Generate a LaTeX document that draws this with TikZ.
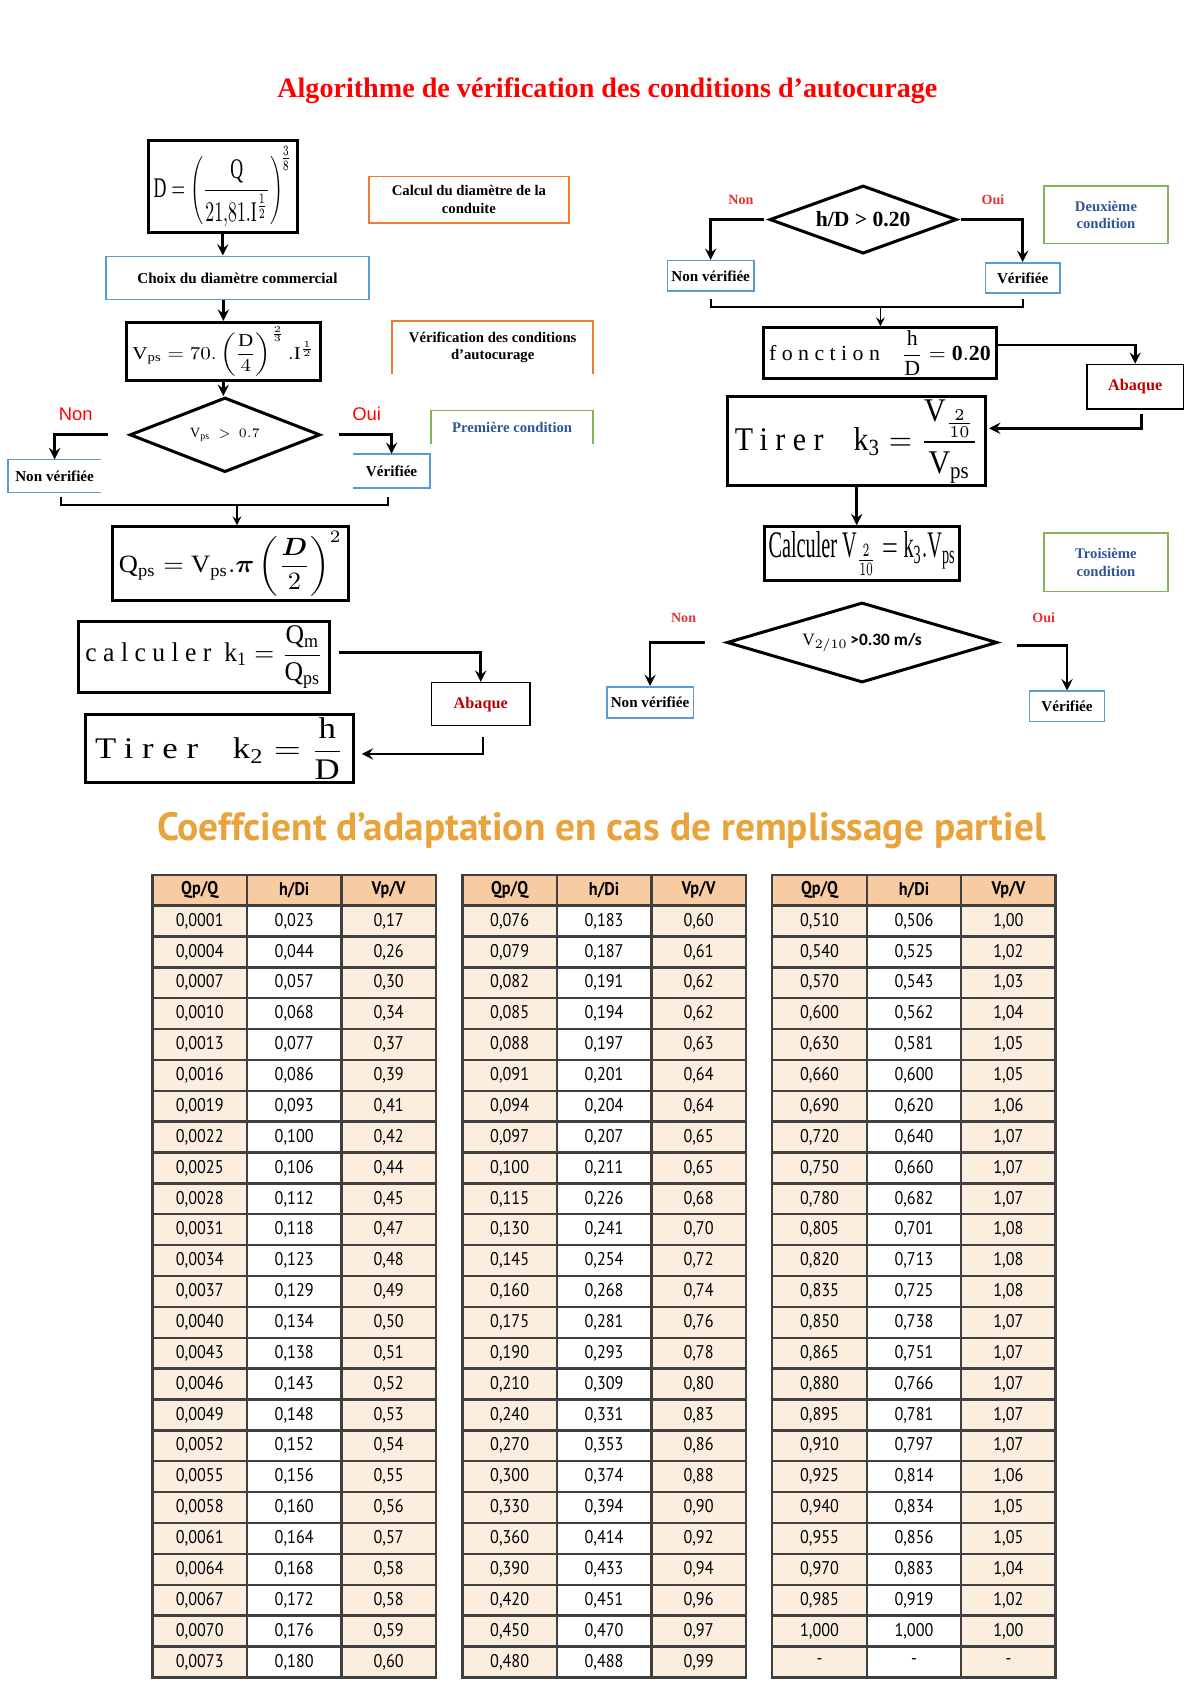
\documentclass[tikz,border=0pt]{standalone}
\usepackage{amsmath}
\usepackage{fontspec}
\setmainfont{Liberation Serif}
\setmathrm{Liberation Serif}
\newfontfamily\arialfont{Liberation Sans}
\newfontfamily\calfont{Carlito}
\newfontfamily\titlefont{PT Sans}
\newfontfamily\tabfont[FakeStretch=0.88]{PT Sans}
\newfontfamily\widefont[LetterSpace=25]{Liberation Serif}
\usetikzlibrary{shapes.geometric}

\definecolor{titlered}{RGB}{255,0,0}
\definecolor{labelred}{RGB}{230,50,55}
\definecolor{boxorange}{RGB}{237,125,49}
\definecolor{boxblue}{RGB}{91,155,213}
\definecolor{boxgreen}{RGB}{130,180,90}
\definecolor{condblue}{RGB}{47,85,151}
\definecolor{abared}{RGB}{192,0,0}
\definecolor{taborange}{RGB}{232,163,60}
\definecolor{headfill}{RGB}{248,203,163}
\definecolor{cellfill}{RGB}{252,238,223}
\definecolor{gridgrey}{RGB}{64,64,64}

\newcommand\fsz[2]{\fontsize{#1}{#2}\selectfont}
\newcommand\fitbox[3]{\resizebox*{#1}{#2}{#3}}

\begin{document}
\begin{tikzpicture}[x=0.5pt, y=-0.5pt, >=stealth,
    fbox/.style={draw, line width=1.4pt, inner sep=0pt},
    notebox/.style={inner sep=0pt, align=center, font=\fsz{6.8}{8}\bfseries},
    bluebox/.style={draw=boxblue, line width=0.7pt, inner sep=0pt, font=\fsz{7}{8}\bfseries},
    openbox/.style={inner sep=0pt, font=\fsz{7}{8}\bfseries},
    greenbox/.style={draw=boxgreen, line width=0.7pt, inner sep=0pt, align=center, text=condblue, font=\fsz{6.8}{8}\bfseries},
    abaque/.style={draw, line width=0.6pt, inner sep=0pt, text=abared, font=\fsz{7.5}{9}\bfseries},
    decision/.style={diamond, draw, line width=1.4pt, inner sep=0pt},
    sanslabel/.style={text=titlered, font=\arialfont\fsz{8.5}{10}},
    seriflabel/.style={text=labelred, font=\fsz{6.5}{8}\bfseries},
    arr/.style={->, line width=1.3pt},
    mergeline/.style={line width=0.8pt},
    tabline/.style={gridgrey, line width=1.1pt, line cap=rect},
    headtxt/.style={font=\tabfont\bfseries\fsz{8.5}{10}},
    celltxt/.style={font=\tabfont\fsz{8.5}{10}}]
\useasboundingbox (0,0) rectangle (1109,1568);

% titre
\node[font=\fsz{13}{15}\bfseries, text=titlered] (titre) at (561.5,84) {Algorithme de vérification des conditions d’autocurage};

% premiere condition
\node[fbox, minimum width=69pt, minimum height=42.5pt] (dform) at (206,172.5)
  {\fitbox{64pt}{37pt}{$\mathrm{D}=\left(\dfrac{\mathrm{Q}}{21{,}81.\mathrm{I}^{\frac{1}{2}}}\right)^{\!\frac{3}{8}}$}};
\node[notebox, draw=boxorange, line width=0.7pt, minimum width=92.5pt, minimum height=21.5pt] (calcul) at (433.5,184.5) {Calcul du diamètre de la\\conduite};
\node[bluebox, minimum width=121.5pt, minimum height=20pt] (choix) at (219.5,257) {Choix du diamètre commercial};
\node[fbox, minimum width=89.5pt, minimum height=27pt] (vps) at (206.5,325)
  {\fitbox{84pt}{23pt}{$\mathrm{V_{ps}}=70.\left(\dfrac{\mathrm{D}}{4}\right)^{\frac{2}{3}}.\mathrm{I}^{\frac{1}{2}}$}};
\node[notebox, minimum width=92.5pt, minimum height=24pt] (verif) at (455.5,321) {Vérification des conditions\\d’autocurage};
\draw[boxorange, line width=0.7pt] (verif.south west) -- (verif.north west) -- (verif.north east) -- (verif.south east);
\node[notebox, text=condblue, minimum width=74.5pt, minimum height=15pt] (prem) at (473.5,395) {Première condition};
\draw[boxgreen, line width=0.7pt] (prem.south west) -- (prem.north west) -- (prem.north east) -- (prem.south east);

\node[decision, aspect=2.55, minimum width=88pt, minimum height=34.5pt] (dia1) at (208,402) {\fsz{6.5}{8}$\mathrm{V_{ps}}\ >\ 0.7$};
\node[sanslabel] (non1) at (70,383) {Non};
\node[sanslabel] (oui1) at (339,383) {Oui};
\node[openbox, minimum width=42.5pt, minimum height=15pt] (nonv1) at (50.5,440) {Non vérifiée};
\draw[boxblue, line width=0.7pt] (nonv1.north east) -- (nonv1.north west) -- (nonv1.south west) -- (nonv1.south east);
\node[openbox, minimum width=35pt, minimum height=15.5pt] (ver1) at (362,435.5) {Vérifiée};
\draw[boxblue, line width=0.7pt] (ver1.north west) -- (ver1.north east) -- (ver1.south east) -- (ver1.south west);

\node[fbox, minimum width=109pt, minimum height=34pt] (qps) at (213,521)
  {\fitbox{103pt}{30pt}{$\mathrm{Q_{ps}}=\mathrm{V_{ps}}.\boldsymbol{\pi}\left(\dfrac{\boldsymbol{D}}{2}\right)^{2}$}};
\node[fbox, minimum width=116pt, minimum height=32.5pt] (k1) at (189,607.5)
  {\fitbox{110pt}{29pt}{{\widefont calculer}\ \ $\mathrm{k_1}=\dfrac{\mathrm{Q_m}}{\mathrm{Q_{ps}}}$}};
\node[abaque, minimum width=45.5pt, minimum height=20pt] (aba1) at (444.5,651) {Abaque};
\node[fbox, minimum width=124pt, minimum height=31pt] (k2) at (203,692)
  {\fitbox{115pt}{28.5pt}{{\widefont Tirer}\quad$\mathrm{k_2}=\dfrac{\mathrm{h}}{\mathrm{D}}$}};

\draw[arr] (dform.south) -- (dform.south |- choix.north);
\draw[arr] (vps.north |- choix.south) -- (vps.north);
\draw[arr] (vps.south) -- (vps.south |- dia1.north);
\draw[arr] ([xshift=-9.5pt]dia1.west) -| (nonv1.north);
\draw[arr] ([xshift=8pt]dia1.east) -| (ver1.north);
\coordinate (m1) at (219,467);
\draw[mergeline] ([xshift=3pt,yshift=-2pt]nonv1.south) |- (m1) -| ([xshift=-1.5pt,yshift=-4pt]ver1.south);
\draw[mergeline, ->] (m1) -- (m1 |- qps.north);
\draw[arr] ([xshift=3.5pt,yshift=2pt]k1.east) -| (aba1.north);
\draw[arr] ([xshift=1pt,yshift=-5pt]aba1.south) |- ([xshift=3pt,yshift=-2.5pt]k2.east);

% deuxieme condition
\node[decision, aspect=2.75, minimum width=86.5pt, minimum height=31.5pt] (dia2) at (798,203) {\fsz{10}{12}\bfseries h/D > 0.20};
\node[seriflabel] (non2) at (685,185) {Non};
\node[seriflabel] (oui2) at (918,185) {Oui};
\node[greenbox, minimum width=57.5pt, minimum height=26.5pt] (deux) at (1022.5,198.5) {Deuxième\\condition};
\node[bluebox, minimum width=40pt, minimum height=14pt] (nonv2) at (657,255) {Non vérifiée};
\node[bluebox, minimum width=34.5pt, minimum height=14pt] (ver2) at (945.5,257) {Vérifiée};
\node[fbox, minimum width=107.5pt, minimum height=23.5pt] (fonct) at (813.5,326.5)
  {\fitbox{102.5pt}{20.5pt}{{\widefont fonction}\quad$\dfrac{\mathrm{h}}{\mathrm{D}}=\mathbf{0.20}$}};
\node[abaque, minimum width=44.5pt, minimum height=20.5pt] (aba2) at (1049.5,357.5) {Abaque};
\node[fbox, minimum width=119pt, minimum height=41pt] (k3) at (792,408)
  {\fitbox{112.5pt}{38.5pt}{{\widefont Tirer}\quad$\mathrm{k_3}=\dfrac{\mathrm{V}_{\frac{2}{10}}}{\mathrm{V_{ps}}}$}};
\node[fbox, minimum width=90pt, minimum height=25pt] (calcv) at (797,512)
  {\fitbox{86.5pt}{20.5pt}{Calculer\ $\mathrm{V}_{\frac{2}{10}}=\mathrm{k_3.V_{ps}}$}};

\draw[arr] ([xshift=-2pt]dia2.west) -| (nonv2.north);
\draw[arr] ([xshift=1.5pt]dia2.east) -| (ver2.north);
\coordinate (m2) at (814,284);
\draw[mergeline] ([yshift=-3.5pt]nonv2.south) |- (m2) -| ([yshift=-2.5pt]ver2.south);
\draw[mergeline, ->] (m2) -- (m2 |- fonct.north);
\draw[arr] ([yshift=3.75pt]fonct.east) -| (aba2.north);
\draw[arr] ([xshift=3pt,yshift=-2pt]aba2.south) |- ([xshift=1pt,yshift=6pt]k3.east);
\draw[arr] (k3.south) -- (k3.south |- calcv.north);

% troisieme condition
\node[greenbox, minimum width=57.5pt, minimum height=27pt] (trois) at (1022.5,520) {Troisième\\condition};
\node[decision, aspect=3.38, minimum width=125pt, minimum height=37pt] (dia3) at (797,594)
  {\fsz{8}{10}$\mathrm{V}_{2/10}$\,{\calfont\bfseries >0.30 m/s}};
\node[seriflabel] (non3) at (632,571) {Non};
\node[seriflabel] (oui3) at (965,571) {Oui};
\node[bluebox, minimum width=40pt, minimum height=14.5pt] (nonv3) at (601,649.5) {Non vérifiée};
\node[bluebox, minimum width=34.5pt, minimum height=14pt] (ver3) at (986.5,653) {Vérifiée};
\draw[arr] ([xshift=-9.5pt]dia3.west) -| (nonv3.north);
\draw[arr] ([xshift=8.5pt,yshift=-1.5pt]dia3.east) -| (ver3.north);

% tableau
\node[font=\titlefont\bfseries\fsz{18.2}{21}, text=taborange] (tabtitre) at (556,768) {Coeffcient d’adaptation en cas de remplissage partiel};
\foreach \tx/\tn in {141/1,427.5/2,714/3}{
  \fill[headfill] (\tx,808.7) rectangle ++(262,28.54);
  \fill[cellfill] (\tx,837.24) rectangle ++(87.33,713.5);
  \fill[cellfill] (\tx+174.67,837.24) rectangle ++(87.33,713.5);
  \foreach \r in {0,...,26}
    \draw[tabline] (\tx,808.7+\r*28.54) -- ++(262,0);
  \foreach \c in {0,...,3}
    \draw[tabline] (\tx+\c*87.33,808.7) -- ++(0,742);
  \node[headtxt] (h\tn a) at (\tx+43.67,823) {Qp/Q};
  \node[headtxt] (h\tn b) at (\tx+131,823) {h/Di};
  \node[headtxt] (h\tn c) at (\tx+218.33,823) {Vp/V};
}
\foreach \a/\b/\c [count=\i from 0] in {{0,0001}/{0,023}/{0,17}, {0,0004}/{0,044}/{0,26},
    {0,0007}/{0,057}/{0,30}, {0,0010}/{0,068}/{0,34}, {0,0013}/{0,077}/{0,37},
    {0,0016}/{0,086}/{0,39}, {0,0019}/{0,093}/{0,41}, {0,0022}/{0,100}/{0,42},
    {0,0025}/{0,106}/{0,44}, {0,0028}/{0,112}/{0,45}, {0,0031}/{0,118}/{0,47},
    {0,0034}/{0,123}/{0,48}, {0,0037}/{0,129}/{0,49}, {0,0040}/{0,134}/{0,50},
    {0,0043}/{0,138}/{0,51}, {0,0046}/{0,143}/{0,52}, {0,0049}/{0,148}/{0,53},
    {0,0052}/{0,152}/{0,54}, {0,0055}/{0,156}/{0,55}, {0,0058}/{0,160}/{0,56},
    {0,0061}/{0,164}/{0,57}, {0,0064}/{0,168}/{0,58}, {0,0067}/{0,172}/{0,58},
    {0,0070}/{0,176}/{0,59}, {0,0073}/{0,180}/{0,60}}{
  \node[celltxt] (t1-\i-a) at (184.67,851.5+\i*28.54) {\a};
  \node[celltxt] (t1-\i-b) at (272,851.5+\i*28.54) {\b};
  \node[celltxt] (t1-\i-c) at (359.33,851.5+\i*28.54) {\c};
}
\foreach \a/\b/\c [count=\i from 0] in {{0,076}/{0,183}/{0,60}, {0,079}/{0,187}/{0,61},
    {0,082}/{0,191}/{0,62}, {0,085}/{0,194}/{0,62}, {0,088}/{0,197}/{0,63},
    {0,091}/{0,201}/{0,64}, {0,094}/{0,204}/{0,64}, {0,097}/{0,207}/{0,65},
    {0,100}/{0,211}/{0,65}, {0,115}/{0,226}/{0,68}, {0,130}/{0,241}/{0,70},
    {0,145}/{0,254}/{0,72}, {0,160}/{0,268}/{0,74}, {0,175}/{0,281}/{0,76},
    {0,190}/{0,293}/{0,78}, {0,210}/{0,309}/{0,80}, {0,240}/{0,331}/{0,83},
    {0,270}/{0,353}/{0,86}, {0,300}/{0,374}/{0,88}, {0,330}/{0,394}/{0,90},
    {0,360}/{0,414}/{0,92}, {0,390}/{0,433}/{0,94}, {0,420}/{0,451}/{0,96},
    {0,450}/{0,470}/{0,97}, {0,480}/{0,488}/{0,99}}{
  \node[celltxt] (t2-\i-a) at (471.17,851.5+\i*28.54) {\a};
  \node[celltxt] (t2-\i-b) at (558.5,851.5+\i*28.54) {\b};
  \node[celltxt] (t2-\i-c) at (645.83,851.5+\i*28.54) {\c};
}
\foreach \a/\b/\c [count=\i from 0] in {{0,510}/{0,506}/{1,00}, {0,540}/{0,525}/{1,02},
    {0,570}/{0,543}/{1,03}, {0,600}/{0,562}/{1,04}, {0,630}/{0,581}/{1,05},
    {0,660}/{0,600}/{1,05}, {0,690}/{0,620}/{1,06}, {0,720}/{0,640}/{1,07},
    {0,750}/{0,660}/{1,07}, {0,780}/{0,682}/{1,07}, {0,805}/{0,701}/{1,08},
    {0,820}/{0,713}/{1,08}, {0,835}/{0,725}/{1,08}, {0,850}/{0,738}/{1,07},
    {0,865}/{0,751}/{1,07}, {0,880}/{0,766}/{1,07}, {0,895}/{0,781}/{1,07},
    {0,910}/{0,797}/{1,07}, {0,925}/{0,814}/{1,06}, {0,940}/{0,834}/{1,05},
    {0,955}/{0,856}/{1,05}, {0,970}/{0,883}/{1,04}, {0,985}/{0,919}/{1,02},
    {1,000}/{1,000}/{1,00}, -/-/-}{
  \node[celltxt] (t3-\i-a) at (757.67,851.5+\i*28.54) {\a};
  \node[celltxt] (t3-\i-b) at (845,851.5+\i*28.54) {\b};
  \node[celltxt] (t3-\i-c) at (932.33,851.5+\i*28.54) {\c};
}
\end{tikzpicture}
\end{document}
